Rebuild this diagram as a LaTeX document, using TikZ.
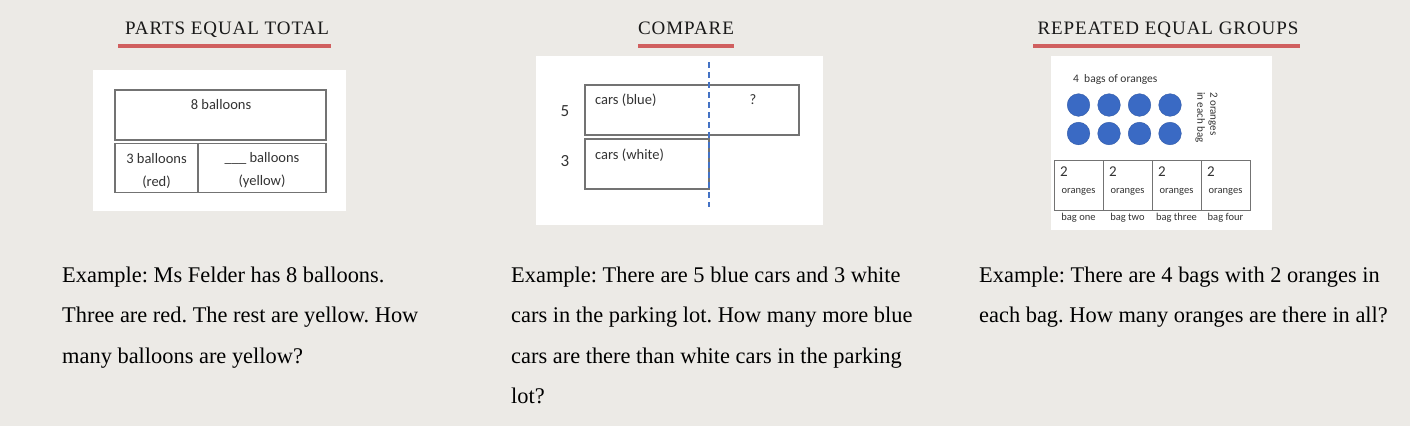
\documentclass[tikz,border=0pt]{standalone}
\usepackage{fontspec}
\setmainfont{Liberation Serif}
\newfontfamily\calib{Carlito}
\newfontfamily\headfont[LetterSpace=5]{Liberation Serif}
\usetikzlibrary{positioning}
\frenchspacing
\definecolor{pBack}{RGB}{236,234,230}
\definecolor{pRed}{RGB}{208,95,95}
\definecolor{pBlue}{RGB}{68,114,196}
\definecolor{pDot}{RGB}{58,106,196}
\definecolor{pGray}{gray}{0.45}
\definecolor{pInk}{gray}{0.2}
\tikzset{
    head/.style={font=\headfont\fontsize{19}{22}\selectfont, inner sep=0pt, anchor=base, text=black!90},
    uline/.style={line width=4pt, pRed},
    panel/.style={fill=white, inner sep=0pt},
    bar/.style={draw=pGray, line width=1.2pt, inner sep=0pt},
    tcell/.style={draw=pGray, line width=0.8pt, inner sep=0pt, minimum width=49, minimum height=50},
    lbl/.style={font=\calib\fontsize{14.5}{23}\selectfont, inner sep=0pt, text=pInk},
    small/.style={font=\calib\fontsize{10.5}{13}\selectfont, inner sep=0pt, text=pInk},
    num/.style={font=\calib\fontsize{15}{17}\selectfont, inner sep=0pt, text=pInk},
    orange/.style={circle, fill=pDot, draw=pDot!85!black, line width=0.4pt, minimum size=22.6, inner sep=0pt},
    dashline/.style={pBlue, line width=2pt, dash pattern=on 6pt off 4pt},
    body/.style={font=\fontsize{22.4}{40.4}\selectfont, align=left, inner sep=0pt, anchor=north west, text=black}
}
\begin{document}
\begin{tikzpicture}[x=1pt,y=-1pt]
\fill[pBack] (0,0) rectangle (1410,426);
\useasboundingbox (0,0) rectangle (1410,426);
% parts equal total
\node[head] (h1) at (227,34.5) {PARTS EQUAL TOTAL};
\coordinate (u1a) at (118,46);
\coordinate (u1b) at (331,46);
\draw[uline] (u1a) -- (u1b);
\node[panel, minimum width=253, minimum height=141] (pan1) at (219.5,140.5) {};
\node[bar, minimum width=211, minimum height=50] (total) at (220.5,115) {};
\node[lbl] (totaltxt) at (221,105) {8 balloons};
\node[bar, minimum width=83, minimum height=49] (red) at (156.5,168) {};
\node[bar, minimum width=128, minimum height=49] (yellow) at (262,168) {};
\node[lbl, align=center] (redtxt) at (156.5,170.5) {3 balloons\\(red)};
\node[lbl, align=center] (yellowtxt) at (262,170.5) {\_\_\_\ balloons\\(yellow)};
\node[body] (ex1) at (62,266.5) {Example: Ms Felder has 8 balloons.\\Three are red. The rest are yellow. How\\many balloons are yellow?};
% compare
\node[head] (h2) at (686,34.5) {COMPARE};
\coordinate (u2a) at (638,46);
\coordinate (u2b) at (734,46);
\draw[uline] (u2a) -- (u2b);
\node[panel, minimum width=287, minimum height=169] (pan2) at (679.5,140.5) {};
\node[bar, minimum width=214, minimum height=50] (blue) at (692,110) {};
\node[bar, minimum width=124, minimum height=50] (white) at (647,164) {};
\node[lbl, anchor=west] (bluetxt) at (595,100) {cars (blue)};
\node[lbl] (qmark) at (753,100) {?};
\node[lbl, anchor=west] (whitetxt) at (595,155) {cars (white)};
\node[lbl, font=\calib\fontsize{17}{20}\selectfont] (five) at (565,111) {5};
\node[lbl, font=\calib\fontsize{17}{20}\selectfont] (three) at (565,161) {3};
\coordinate (d1) at (709,62);
\coordinate (d2) at (709,207);
\draw[dashline] (d1) -- (d2);
\node[body] (ex2) at (511,266.5) {Example: There are 5 blue cars and 3 white\\cars in the parking lot. How many more blue\\cars are there than white cars in the parking\\lot?};
% repeated equal groups
\node[head] (h3) at (1168,34.5) {REPEATED EQUAL GROUPS};
\coordinate (u3a) at (1033,46);
\coordinate (u3b) at (1300,46);
\draw[uline] (u3a) -- (u3b);
\node[panel, minimum width=221, minimum height=174] (pan3) at (1161.5,143) {};
\node[small, anchor=west, font=\calib\fontsize{11.5}{13}\selectfont] (bagstxt) at (1073,79) {4\ \ bags of oranges};
\node[orange] (o11) at (1078.5,105) {};
\node[orange] (o12) at (1109,105) {};
\node[orange] (o13) at (1139.5,105) {};
\node[orange] (o14) at (1170,105) {};
\node[orange] (o21) at (1078.5,133.5) {};
\node[orange] (o22) at (1109,133.5) {};
\node[orange] (o23) at (1139.5,133.5) {};
\node[orange] (o24) at (1170,133.5) {};
\node[small, rotate=-90, anchor=west, align=left, font=\calib\fontsize{11}{13}\selectfont] (eachtxt) at (1206.5,92) {2 oranges\\in each bag};
\node[tcell] (c1) at (1078.5,185) {};
\node[tcell] (c2) at (1127.5,185) {};
\node[tcell] (c3) at (1176.5,185) {};
\node[tcell] (c4) at (1225.5,185) {};
\node[num, anchor=west] (n1) at (1060,172) {2};
\node[num, anchor=west] (n2) at (1109,172) {2};
\node[num, anchor=west] (n3) at (1158,172) {2};
\node[num, anchor=west] (n4) at (1207,172) {2};
\node[small] (t1) at (1078.5,192) {oranges};
\node[small] (t2) at (1127.5,192) {oranges};
\node[small] (t3) at (1176.5,192) {oranges};
\node[small] (t4) at (1225.5,192) {oranges};
\node[small] (b1) at (1078.5,218) {bag one};
\node[small] (b2) at (1127.5,218) {bag two};
\node[small] (b3) at (1176.5,218) {bag three};
\node[small] (b4) at (1225.5,218) {bag four};
\node[body] (ex3) at (979,266.5) {Example: There are 4 bags with 2 oranges in\\each bag. How many oranges are there in all?};
\end{tikzpicture}
\end{document}
